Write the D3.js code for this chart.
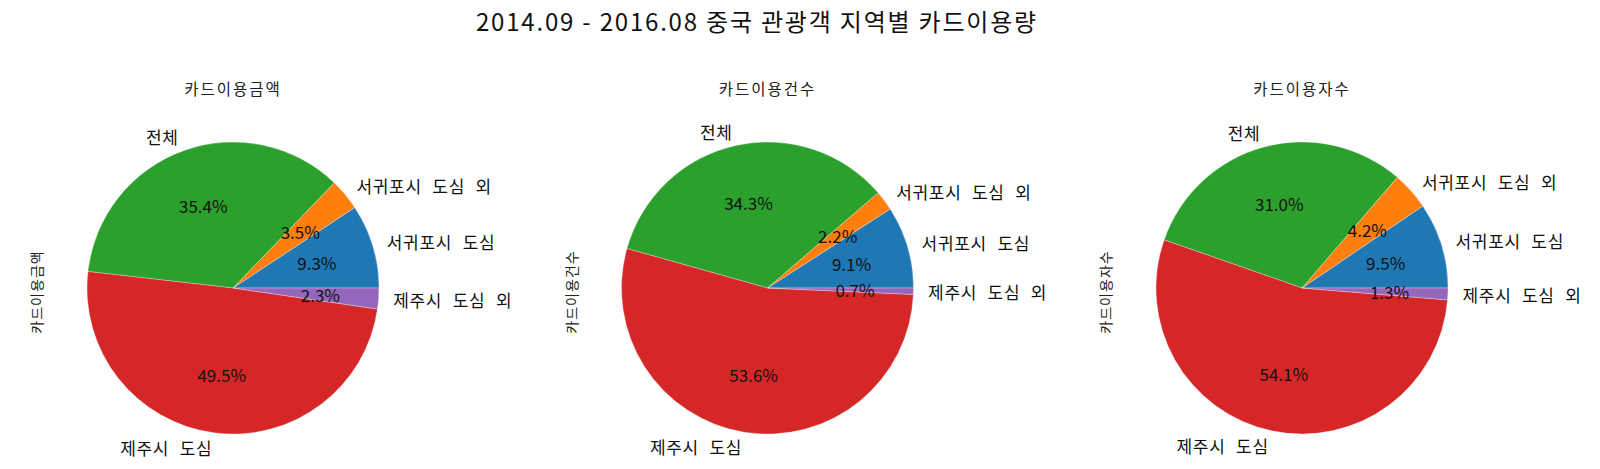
<!DOCTYPE html>
<html>
<head>
<meta charset="utf-8">
<script src="https://cdn.jsdelivr.net/npm/d3@7"></script>
<style>
    body { margin: 0; background: #fff; }
    text { font-family: "Noto Sans CJK KR", "Noto Sans", sans-serif; }
</style>
</head>
<body>
<div id="chart"></div>
<script>
// 데이터
const categories = ['서귀포시 도심', '서귀포시 도심 외', '전체', '제주시 도심', '제주시 도심 외']
const metrics = ['카드이용금액', '카드이용건수', '카드이용자수']
const amountShare = [9.3, 3.5, 35.4, 49.5, 2.3]
const countShare = [9.1, 2.2, 34.3, 53.6, 0.7]
const userShare = [9.5, 4.2, 31.0, 54.1, 1.3]
const seriesList = [amountShare, countShare, userShare]
const colors = ['#1f77b4', '#ff7f0e', '#2ca02c', '#d62728', '#9467bd']
const chartTitle = '2014.09 - 2016.08 중국 관광객 지역별 카드이용량'

const width = 1600
const height = 469
const radius = 146
const cy = 288

const svg = d3.select('#chart').append('svg')
    .attr('width', width)
    .attr('height', height)

// 서브플롯 가로 위치
const xPos = d3.scalePoint()
    .domain(metrics)
    .range([233, 1302])

const color = d3.scaleOrdinal()
    .domain(categories)
    .range(colors)

// matplotlib 처럼 3시 방향에서 반시계 방향으로
const pie = d3.pie()
    .sort(null)
    .startAngle(Math.PI / 2)
    .endAngle(Math.PI / 2 - 2 * Math.PI)

const arc = d3.arc()
    .innerRadius(0)
    .outerRadius(radius)

function pointAt (d, r) {
    let m = (d.startAngle + d.endAngle) / 2
    return [r * Math.sin(m), -r * Math.cos(m)]
}

// 전체 제목
svg.append('text')
    .attr('x', 757)
    .attr('y', 20)
    .attr('text-anchor', 'middle')
    .attr('dominant-baseline', 'central')
    .attr('font-size', '24px')
    .attr('letter-spacing', '1.8px')
    .attr('fill', '#111')
    .text(chartTitle)

metrics.forEach(function (metric, i) {
    let cx = xPos(metric)
    let values = seriesList[i]
    let rows = categories.map((c, j) => ({ name: c, value: values[j] }))
    let arcs = pie.value(d => d.value)(rows)

    // 서브플롯 제목
    svg.append('text')
        .attr('x', cx)
        .attr('y', 88)
        .attr('text-anchor', 'middle')
        .attr('dominant-baseline', 'central')
        .attr('font-size', '15.5px')
        .attr('letter-spacing', '2px')
        .attr('fill', '#222')
        .text(metric)

    // y축 라벨
    svg.append('text')
        .attr('transform', `translate(${cx - 197}, 292) rotate(-90)`)
        .attr('text-anchor', 'middle')
        .attr('dominant-baseline', 'central')
        .attr('font-size', '14px')
        .attr('letter-spacing', '1px')
        .attr('fill', '#222')
        .text(metric)

    let g = svg.append('g')
        .attr('transform', `translate(${cx}, ${cy})`)

    g.selectAll('path')
        .data(arcs)
        .enter()
        .append('path')
        .attr('d', arc)
        .attr('fill', d => color(d.data.name))
        .attr('stroke', 'rgba(255,255,255,0.5)')
        .attr('stroke-width', 0.6)

    // 카테고리 라벨
    g.selectAll('text.label')
        .data(arcs)
        .enter()
        .append('text')
        .classed('label', true)
        .attr('x', d => pointAt(d, radius * 1.1)[0])
        .attr('y', d => pointAt(d, radius * 1.1)[1])
        .attr('text-anchor', d => pointAt(d, 1)[0] > 0 ? 'start' : 'end')
        .attr('dominant-baseline', 'central')
        .attr('font-size', '17px')
        .attr('letter-spacing', '0.7px')
        .attr('word-spacing', '6px')
        .attr('fill', '#111')
        .text(d => d.data.name)

    // 비율 라벨
    g.selectAll('text.pct')
        .data(arcs)
        .enter()
        .append('text')
        .classed('pct', true)
        .attr('x', d => pointAt(d, radius * 0.6)[0])
        .attr('y', d => pointAt(d, radius * 0.6)[1])
        .attr('text-anchor', 'middle')
        .attr('dominant-baseline', 'central')
        .attr('font-size', '17px')
        .attr('fill', '#111')
        .text(d => d.data.value.toFixed(1) + '%')
})
</script>
</body>
</html>
